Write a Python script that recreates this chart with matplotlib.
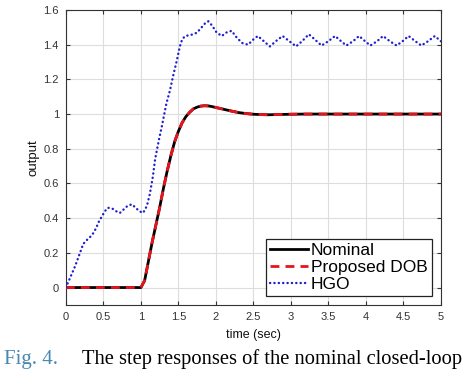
import matplotlib
matplotlib.use("Agg")
import matplotlib.pyplot as plt

# ---- data ----
t_nom = [0, 1.0, 1.05, 1.1, 1.15, 1.2, 1.25, 1.3, 1.35, 1.4, 1.45, 1.5, 1.55, 1.6, 1.65,
         1.7, 1.75, 1.8, 1.85, 1.9, 1.95, 2.0, 2.1, 2.2, 2.3, 2.4, 2.5, 2.6, 2.7, 2.8,
         2.9, 3.0, 3.2, 5.0]
y_nom = [0, 0, 0.04, 0.15, 0.26, 0.36, 0.46, 0.57, 0.67, 0.76, 0.84, 0.90, 0.95, 0.985,
         1.01, 1.03, 1.04, 1.046, 1.048, 1.047, 1.043, 1.038, 1.028, 1.018, 1.009, 1.003,
         0.999, 0.997, 0.996, 0.997, 0.998, 0.999, 1.0, 1.0]

t_dob = t_nom
y_dob = y_nom

t_hgo = [0, 0.06, 0.12, 0.18, 0.23, 0.27, 0.32, 0.36, 0.40, 0.44, 0.48, 0.52, 0.56, 0.62,
         0.67, 0.72, 0.77, 0.82, 0.88, 0.93, 0.98, 1.03, 1.08, 1.12, 1.16, 1.19, 1.24,
         1.28, 1.34, 1.39, 1.43, 1.48, 1.52, 1.55, 1.59, 1.65, 1.70, 1.75, 1.81, 1.86,
         1.90, 1.95, 2.01, 2.08, 2.14, 2.21, 2.28, 2.35, 2.43, 2.50, 2.56, 2.64, 2.72,
         2.80, 2.89, 2.98, 3.07, 3.15, 3.24, 3.32, 3.41, 3.50, 3.59, 3.67, 3.74, 3.83,
         3.91, 3.99, 4.06, 4.15, 4.23, 4.32, 4.41, 4.49, 4.57, 4.66, 4.74, 4.83, 4.92, 5.0]
y_hgo = [0, 0.06, 0.12, 0.19, 0.25, 0.27, 0.29, 0.31, 0.34, 0.38, 0.41, 0.44, 0.46, 0.455,
         0.44, 0.43, 0.45, 0.47, 0.48, 0.46, 0.44, 0.43, 0.47, 0.54, 0.64, 0.74, 0.85,
         0.93, 1.06, 1.14, 1.22, 1.31, 1.39, 1.43, 1.45, 1.455, 1.46, 1.47, 1.50, 1.525,
         1.535, 1.51, 1.47, 1.45, 1.47, 1.48, 1.44, 1.41, 1.40, 1.43, 1.45, 1.42, 1.39,
         1.42, 1.45, 1.42, 1.39, 1.42, 1.46, 1.43, 1.395, 1.42, 1.45, 1.42, 1.395, 1.42,
         1.45, 1.42, 1.395, 1.42, 1.45, 1.42, 1.395, 1.42, 1.45, 1.42, 1.395, 1.42, 1.45, 1.42]

labels = ["Nominal", "Proposed DOB", "HGO"]
xticks = [0, 0.5, 1, 1.5, 2, 2.5, 3, 3.5, 4, 4.5, 5]
xticklabels = ["0", "0.5", "1", "1.5", "2", "2.5", "3", "3.5", "4", "4.5", "5"]
yticks = [0, 0.2, 0.4, 0.6, 0.8, 1.0, 1.2, 1.4, 1.6]
yticklabels = ["0", "0.2", "0.4", "0.6", "0.8", "1", "1.2", "1.4", "1.6"]
caption_fig = "Fig. 4."
caption_rest = "The step responses of the nominal closed-loop"

plt.rcParams['font.family'] = ['Liberation Sans', 'DejaVu Sans']

fig = plt.figure(figsize=(4.74, 3.70), dpi=100)
ax = fig.add_axes([0.139, 0.176, 0.791, 0.797])

ax.plot(t_nom, y_nom, color='black', lw=2.0, label=labels[0], zorder=3)
ax.plot(t_dob, y_dob, color='#e8141c', lw=2.0, ls=(0, (3.2, 2.2)), label=labels[1], zorder=4)
ax.plot(t_hgo, y_hgo, color='#1f1fd0', lw=1.7, ls=(0, (0.1, 1.75)), dash_capstyle='round',
        label=labels[2], zorder=5)

ax.set_xlim(0, 5)
ax.set_ylim(-0.1, 1.6)
ax.set_xticks(xticks)
ax.set_xticklabels(xticklabels)
ax.set_yticks(yticks)
ax.set_yticklabels(yticklabels)
ax.tick_params(direction='in', top=True, right=True, labelsize=8, length=3,
               color='#333333', labelcolor='#333333', pad=5)
ax.grid(True, color='#dddddd', lw=0.8)
ax.set_axisbelow(True)
for s in ax.spines.values():
    s.set_color('#333333')
    s.set_linewidth(0.8)

ax.set_xlabel("time (sec)", fontsize=9, labelpad=5, color='#111111')
ax.set_ylabel("output", fontsize=9.5, labelpad=3, color='#111111')

leg = ax.legend(loc='lower right', fontsize=12.5, frameon=True, fancybox=False,
                framealpha=1, edgecolor='#222222', handlelength=2.2, handletextpad=0.15,
                labelspacing=0.1, borderpad=0.25, borderaxespad=0.5)
leg.get_frame().set_linewidth(0.9)

fig.text(0.008, 0.016, caption_fig, fontsize=15, family='Liberation Serif',
         color='#4a88b0', va='baseline')
fig.text(0.172, 0.016, caption_rest, fontsize=14.8, family='Liberation Serif',
         color='black', va='baseline')

fig.savefig("out.png", dpi=100, facecolor='white')
